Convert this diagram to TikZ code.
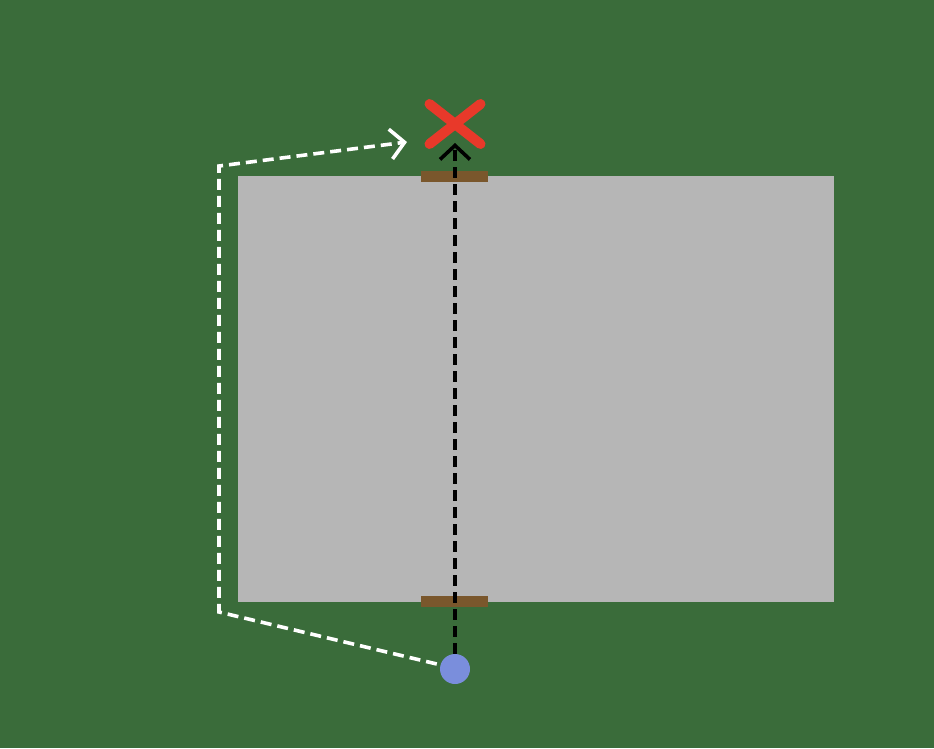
\documentclass[tikz,border=0pt]{standalone}
\usetikzlibrary{arrows.meta,shapes.misc}
\definecolor{bggreen}{RGB}{58,108,58}
\definecolor{wallgray}{RGB}{182,182,182}
\definecolor{doorbrown}{RGB}{122,87,44}
\definecolor{srcblue}{RGB}{122,142,220}
\definecolor{xred}{RGB}{232,57,42}
\tikzset{
  x=1pt, y=-1pt,
  room/.style={fill=wallgray, draw=none},
  door/.style={fill=doorbrown, draw=none},
  source/.style={circle, fill=srcblue, minimum size=30pt, inner sep=0pt},
  blocked/.style={cross out, draw=xred, line width=10pt, line cap=round, minimum width=41pt, minimum height=30pt, inner sep=0pt},
  dashpath/.style={line width=3.6pt, dash pattern=on 11pt off 6pt},
  chev/.style={-{Straight Barb[length=14pt,width=30pt]}},
}
\begin{document}
\begin{tikzpicture}
\fill[bggreen] (0,0) rectangle (934,748);
\useasboundingbox (0,0) rectangle (934,748);
\path[room] (238,176) rectangle (834,602);
\path[door] (421,171) rectangle (488,182);
\path[door] (421,596) rectangle (488,607);
\node[source] (src) at (455,669) {};
\node[blocked] (tgt) at (455,124) {};
\coordinate (tip) at (455,143);
\coordinate (cb) at (219,612);
\coordinate (ct) at (219,166);
\coordinate (wtip) at (407,142);
\draw[dashpath, black, chev] (src.north) -- (tip);
\draw[dashpath, white, chev] (src.west) ++(-3,-5) -- (cb) -- (ct) -- (wtip);
\end{tikzpicture}
\end{document}
